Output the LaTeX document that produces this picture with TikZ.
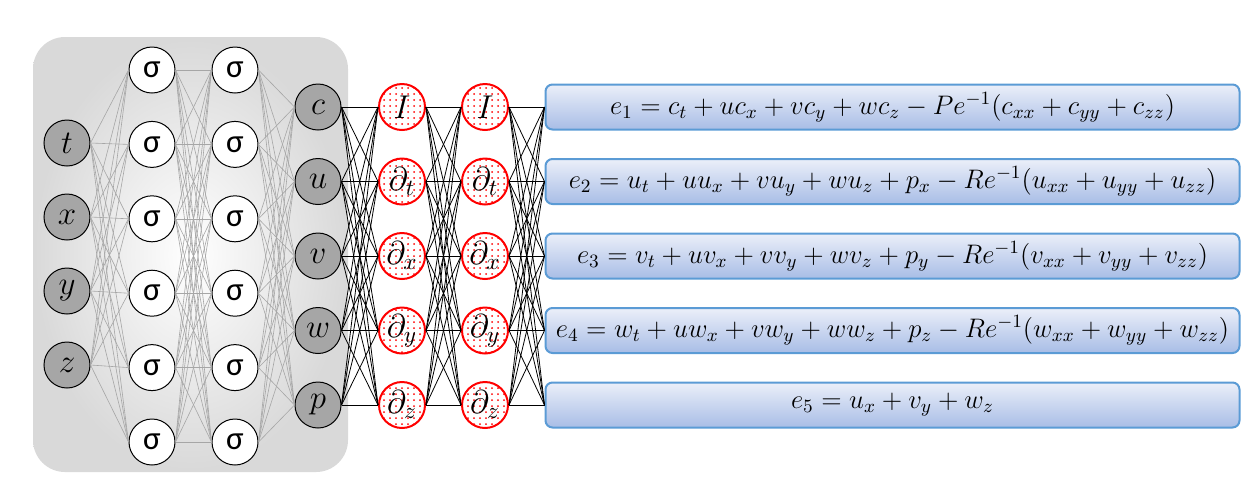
\RequirePackage{fix-cm}
\documentclass[tikz,border=0pt]{standalone}
\usepackage{amsmath,amssymb}
\usepackage{fontspec}
\usepackage{xcolor}
\usepackage{tikz}
\usetikzlibrary{patterns}
\newfontfamily\sigfont{Carlito}
\definecolor{bordeazul}{HTML}{5B9BD5}
\definecolor{azularriba}{HTML}{EBEFF9}
\definecolor{azulabajo}{HTML}{A8BDE6}

\begin{document}
\begin{tikzpicture}[x=0.5pt,y=-0.5pt,
                    neurona/.style={circle,draw,minimum size=23pt,inner sep=0pt,line width=0.5pt,font=\fontsize{16.5}{16.5}\selectfont},
                    entrada/.style={neurona,fill=black!35},
                    sigma/.style={neurona,fill=white,font=\sigfont\fontsize{16.5}{16.5}\selectfont},
                    deriv/.style={neurona,draw=red,line width=1pt,preaction={fill=white},pattern=dots,pattern color=red},
                    ecuacion/.style={draw=bordeazul,line width=1pt,rounded corners=3.5pt,top color=azularriba,bottom color=azulabajo,
                                     minimum width=347pt,minimum height=22.5pt,inner xsep=0pt,inner ysep=2pt,font=\fontsize{13.4}{13.4}\selectfont},
                    conexgris/.style={black!35,line width=0.3pt},
                    conexnegra/.style={black,line width=0.4pt}]
  \useasboundingbox (0,0) rectangle (1258,484);
  % fondo de la red
  \shade[rounded corners=16pt,inner color=white,outer color=black!15] (33,37) rectangle (348,472);
  % capas
  \foreach \etq [count=\i] in {t,x,y,z}
    \node[entrada] (in\i) at (67,{69+74*\i}) {$\etq$};
  \foreach \i in {1,...,6} {
    \node[sigma] (sa\i) at (152,{-4.4+74.4*\i}) {σ};
    \node[sigma] (sb\i) at (235,{-4.4+74.4*\i}) {σ};
  }
  \foreach \etq [count=\i] in {c,u,v,w,p}
    \node[entrada] (out\i) at (318,{32.5+74.5*\i}) {$\etq$};
  \foreach \etq [count=\i] in {I,\partial_t,\partial_x,\partial_y,\partial_z} {
    \node[deriv] (da\i) at (402,{32.5+74.5*\i}) {$\etq$};
    \node[deriv] (db\i) at (485,{32.5+74.5*\i}) {$\etq$};
  }
  \node[ecuacion] (e1) at (892.5,107) {$e_1 = c_t + uc_x + vc_y + wc_z - Pe^{-1}(c_{xx} + c_{yy} + c_{zz})$};
  \node[ecuacion] (e2) at (892.5,181.5) {$e_2 = u_t + uu_x + vu_y + wu_z + p_x - Re^{-1}(u_{xx} + u_{yy} + u_{zz})$};
  \node[ecuacion] (e3) at (892.5,256) {$e_3 = v_t + uv_x + vv_y + wv_z + p_y - Re^{-1}(v_{xx} + v_{yy} + v_{zz})$};
  \node[ecuacion] (e4) at (892.5,330.5) {$e_4 = w_t + uw_x + vw_y + ww_z + p_z - Re^{-1}(w_{xx} + w_{yy} + w_{zz})$};
  \node[ecuacion] (e5) at (892.5,405) {$e_5 = u_x + v_y + w_z$};
  % conexiones
  \foreach \i in {1,...,4}
    \foreach \j in {1,...,6}
      \draw[conexgris] (in\i.east) -- (sa\j.west);
  \foreach \i in {1,...,6}
    \foreach \j in {1,...,6}
      \draw[conexgris] (sa\i.east) -- (sb\j.west);
  \foreach \i in {1,...,6}
    \foreach \j in {1,...,5}
      \draw[conexgris] (sb\i.east) -- (out\j.west);
  \foreach \i in {1,...,5}
    \foreach \j in {1,...,5} {
      \draw[conexnegra] (out\i.east) -- (da\j.west);
      \draw[conexnegra] (da\i.east) -- (db\j.west);
      \draw[conexnegra] (db\i.east) -- (e\j.west);
    }
\end{tikzpicture}
\end{document}
